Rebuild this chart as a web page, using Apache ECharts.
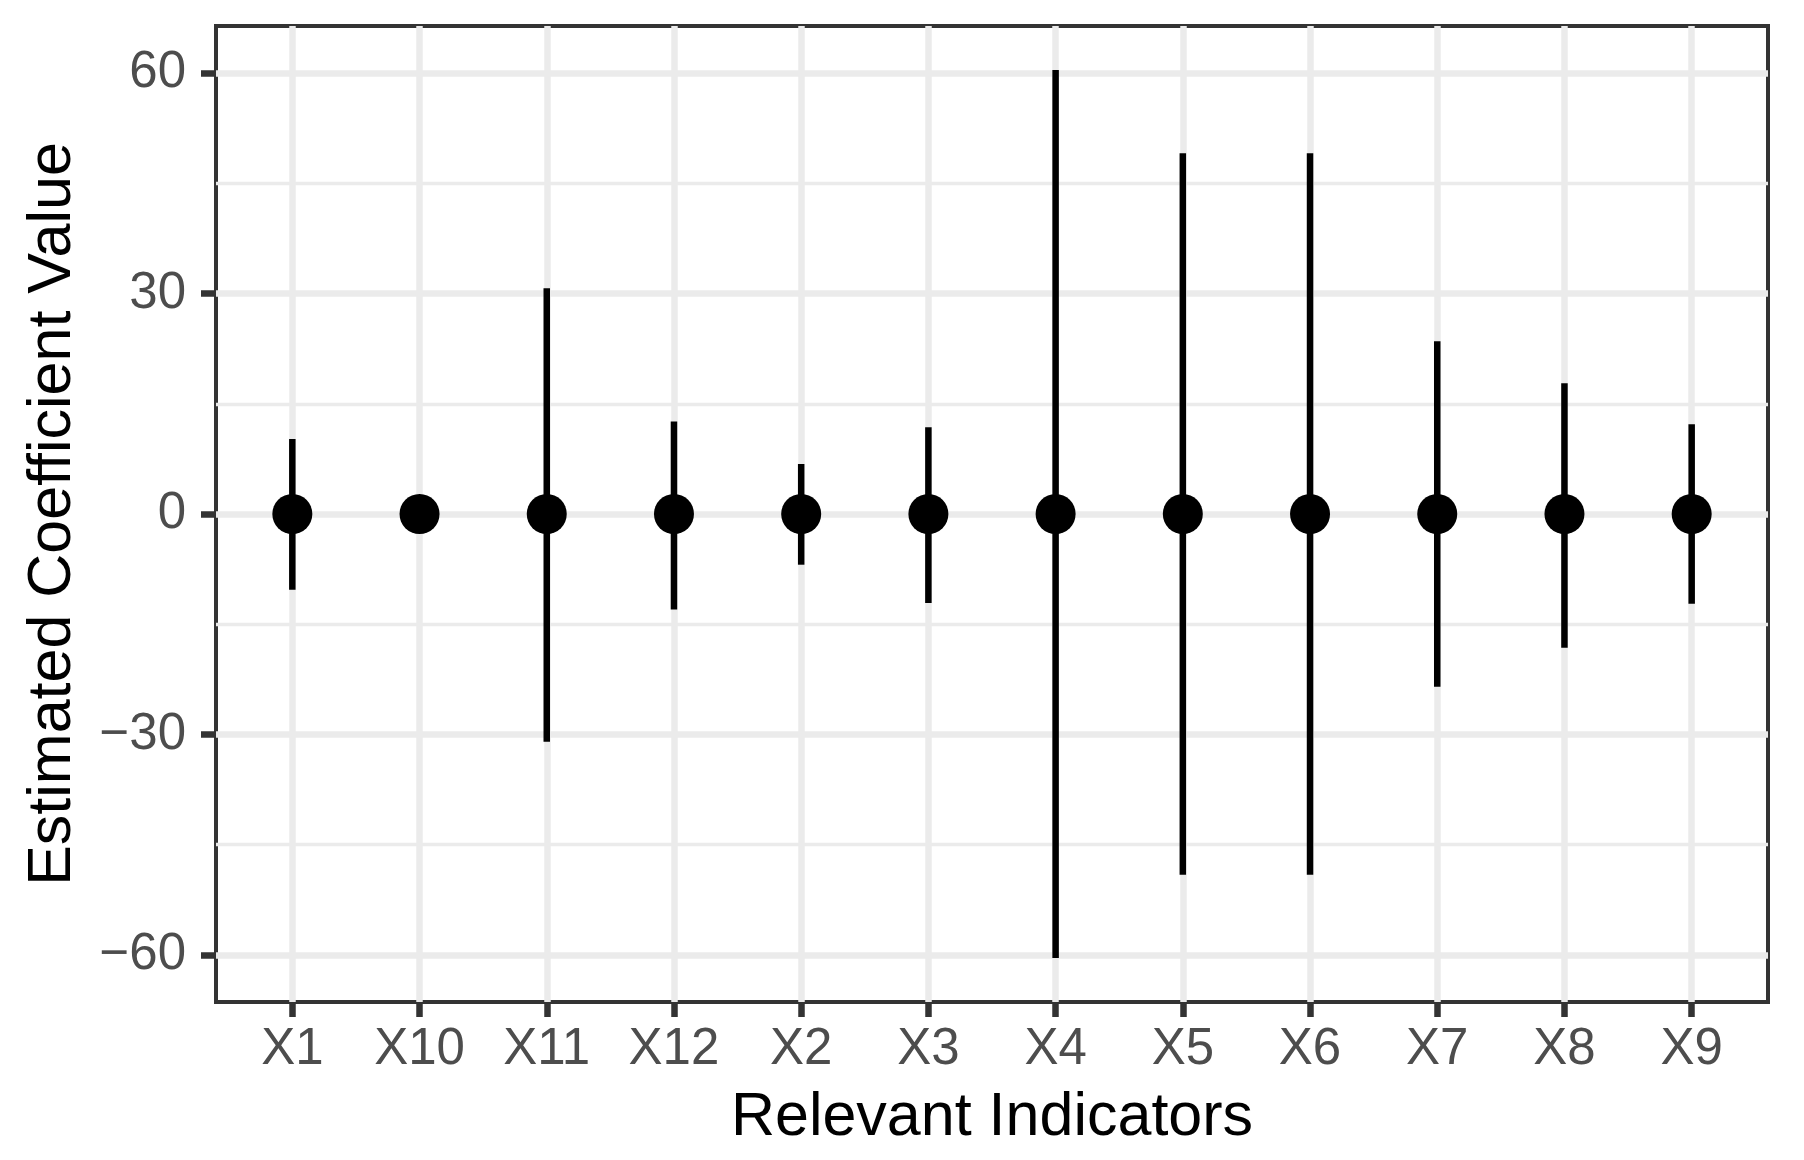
<!DOCTYPE html>
<html>
<head>
<meta charset="utf-8">
<title>Estimated Coefficient Value</title>
<script src="https://cdn.jsdelivr.net/npm/echarts@6/dist/echarts.min.js"></script>
<style>
  html, body { margin: 0; padding: 0; background: #fff; }
  #chart { width: 1804px; height: 1160px; }
</style>
</head>
<body>
<div id="chart"></div>
<script>
// indicators, in the order they appear on the x axis
var categories = ['X1', 'X10', 'X11', 'X12', 'X2', 'X3', 'X4', 'X5', 'X6', 'X7', 'X8', 'X9'];
// point estimates and interval ends
var estimates = [0, 0, 0, 0, 0, 0, 0, 0, 0, 0, 0, 0];
var lower = [-10.3, 0, -31.0, -13.0, -6.9, -12.1, -60.4, -49.1, -49.1, -23.5, -18.2, -12.2];
var upper = [10.2, 0, 30.7, 12.6, 6.8, 11.8, 60.4, 49.1, 49.1, 23.5, 17.8, 12.2];
// axis ticks
var yMajorTicks = [-60, -30, 0, 30, 60];
var yMinorTicks = [-45, -15, 15, 45];

var FONT = 'Liberation Sans';
var GRID_COLOR = '#EBEBEB';

var xTicks = categories.map(function (c, i) { return i; });
var points = estimates.map(function (v, i) { return [i, v]; });
var ranges = lower.map(function (lo, i) { return [i, lo, upper[i]]; });

var chart = echarts.init(document.getElementById('chart'));
chart.setOption({
    animation: false,
    backgroundColor: '#fff',
    grid: {
        left: 216, right: 36, top: 26, bottom: 158,
        show: true,
        borderColor: '#333333',
        borderWidth: 4,
        backgroundColor: 'transparent',
        outerBoundsMode: 'none'
    },
    xAxis: {
        type: 'value',
        min: -0.6,
        max: categories.length - 0.4,
        position: 'bottom',
        name: 'Relevant Indicators',
        nameLocation: 'middle',
        nameGap: 86,
        nameTextStyle: { fontFamily: FONT, fontSize: 61, color: '#000' },
        axisLine: { show: false, onZero: false },
        axisTick: { show: true, length: 15, lineStyle: { color: '#333333', width: 6.5 }, customValues: xTicks },
        axisLabel: {
            fontFamily: FONT, fontSize: 51, color: '#4D4D4D', margin: 22,
            customValues: xTicks,
            formatter: function (v) { return categories[v]; }
        },
        splitLine: { show: true, lineStyle: { color: GRID_COLOR, width: 6.5 } }
    },
    yAxis: [{
        type: 'value',
        min: -66.4,
        max: 66.4,
        position: 'left',
        name: 'Estimated Coefficient Value',
        nameLocation: 'middle',
        nameGap: 132,
        nameTextStyle: { fontFamily: FONT, fontSize: 61, color: '#000' },
        axisLine: { show: false, onZero: false },
        axisTick: { show: true, length: 15, lineStyle: { color: '#333333', width: 6.5 }, customValues: yMajorTicks },
        axisLabel: {
            fontFamily: FONT, fontSize: 51, color: '#4D4D4D', margin: 30,
            customValues: yMajorTicks,
            formatter: function (v) { return String(v).replace('-', '\u2212'); }
        },
        splitLine: { show: true, lineStyle: { color: GRID_COLOR, width: 6.5 } }
    }, {
        // minor grid
        type: 'value',
        min: -66.4,
        max: 66.4,
        position: 'left',
        axisLine: { show: false, onZero: false },
        axisTick: { show: false, customValues: yMinorTicks },
        axisLabel: { show: false, customValues: yMinorTicks },
        splitLine: { show: true, lineStyle: { color: GRID_COLOR, width: 3.3 } }
    }],
    series: [{
        type: 'custom',
        name: 'interval',
        data: ranges,
        z: 3,
        renderItem: function (params, api) {
            var x = api.value(0);
            var a = api.coord([x, api.value(1)]);
            var b = api.coord([x, api.value(2)]);
            return {
                type: 'line',
                shape: { x1: a[0], y1: a[1], x2: b[0], y2: b[1] },
                style: { stroke: '#000', lineWidth: 6.5 }
            };
        },
        encode: { x: 0, y: [1, 2] }
    }, {
        type: 'scatter',
        name: 'estimate',
        data: points,
        z: 4,
        symbol: 'circle',
        symbolSize: 40,
        itemStyle: { color: '#000', opacity: 1 }
    }]
});
</script>
</body>
</html>
